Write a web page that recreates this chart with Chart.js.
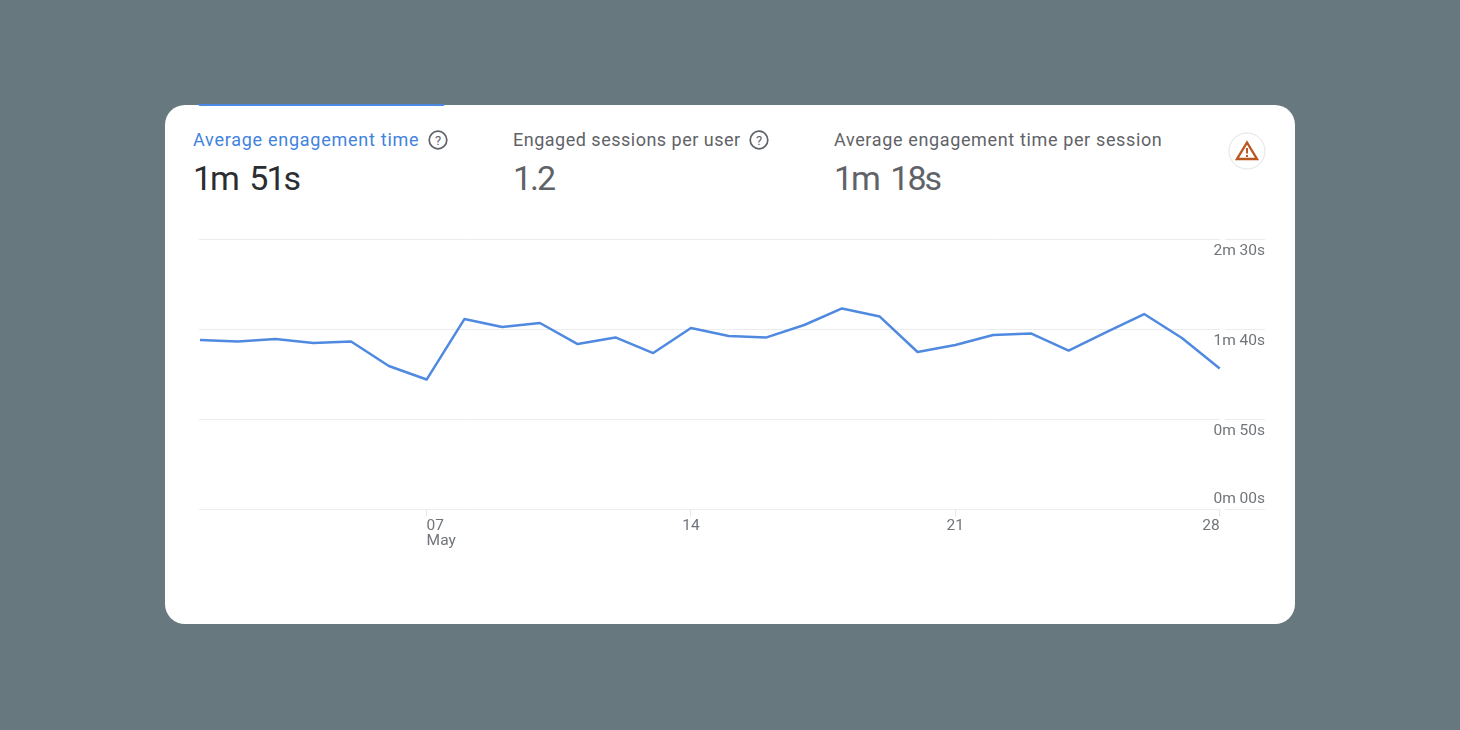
<!DOCTYPE html>
<html>
<head>
<meta charset="utf-8">
<title>Average engagement time</title>
<script src="https://cdn.jsdelivr.net/npm/chart.js@4"></script>
<style>
    html, body { margin: 0; height: 100%; background: #68787f; overflow: hidden; }
    #card { position: absolute; left: 165px; top: 105px; width: 1130px; height: 519px; background: #fff; border-radius: 20px; font-family: Roboto, sans-serif; }
    #tabBar { position: absolute; left: 33px; top: -1px; width: 247px; height: 2px; background: #4a88e2; border-radius: 0 0 3px 3px; }
    #chartBox { position: absolute; left: 0; top: 0; width: 1130px; height: 519px; }
    .metric { position: absolute; top: 24px; white-space: nowrap; }
    .metric .name { font-size: 18px; line-height: 22px; color: #5f6368; }
    .metric .value { font-size: 34px; line-height: 42px; margin-top: 6px; color: #5f6368; letter-spacing: -2px; word-spacing: 5px; }
    .metric.active .name { color: #3f83e0; }
    .metric.active .value { color: #2b2e31; }
    svg { position: absolute; }
</style>
</head>
<body>
<div id="card">
    <div id="tabBar"></div>
    <div class="metric active" style="left:28px"><div class="name" style="letter-spacing:0.74px">Average engagement time</div><div class="value">1m 51s</div></div>
    <div class="metric" style="left:348px"><div class="name" style="letter-spacing:0.5px">Engaged sessions per user</div><div class="value">1.2</div></div>
    <div class="metric" style="left:669px"><div class="name" style="letter-spacing:0.64px">Average engagement time per session</div><div class="value">1m 18s</div></div>
    <svg style="left:262px;top:24px" width="22" height="22" viewBox="0 0 22 22"><circle cx="11" cy="11" r="8.8" fill="none" stroke="#5f6368" stroke-width="1.7"/><text x="11" y="15.5" text-anchor="middle" font-family="Roboto" font-size="13" fill="#5f6368">?</text></svg>
    <svg style="left:583px;top:24px" width="22" height="22" viewBox="0 0 22 22"><circle cx="11" cy="11" r="8.8" fill="none" stroke="#5f6368" stroke-width="1.7"/><text x="11" y="15.5" text-anchor="middle" font-family="Roboto" font-size="13" fill="#5f6368">?</text></svg>
    <svg style="left:1063px;top:27px" width="38" height="38" viewBox="0 0 38 38"><circle cx="19" cy="19" r="18" fill="#fff" stroke="#e2e3e6" stroke-width="1"/><path d="M19 10.5 L29 27 L9 27 Z" fill="none" stroke="#b9591f" stroke-width="2.4" stroke-linejoin="miter"/><path d="M19 16 V21.5 M19 23 V25" stroke="#b9591f" stroke-width="2"/></svg>
    <div id="chartBox"><canvas id="lineChart" width="1130" height="519"></canvas></div>
</div>
<script>
    // day of month, one point per day
    var days = [1, 2, 3, 4, 5, 6, 7, 8, 9, 10, 11, 12, 13, 14, 15, 16, 17, 18, 19, 20, 21, 22, 23, 24, 25, 26, 27, 28];
    // average engagement time in seconds
    var engagementSeconds = [94.2, 93.3, 94.7, 92.5, 93.3, 79.7, 72.2, 105.8, 101.4, 103.6, 91.9, 95.6, 86.9, 100.8, 96.4, 95.6, 102.5, 111.7, 107.2, 87.5, 91.4, 96.9, 97.8, 88.3, 98.6, 108.6, 95.3, 78.3];
    var xTickValues = [7, 14, 21, 28];
    var xTickLabels = [["07", "May"], "14", "21", "28"];
    var yTickValues = [0, 50, 100, 150];
    var yTickLabels = ["0m 00s", "0m 50s", "1m 40s", "2m 30s"];

    // the GA chart nudges its labels: first x label left aligned, last right aligned,
    // y labels sit under their grid line except the bottom one
    var labelTweaks = {
        id: "labelTweaks",
        beforeDraw: function (chart) {
            var x = chart.scales.x, y = chart.scales.y;
            var xItems = x.getLabelItems(chart.chartArea);
            xItems.forEach(function (item, i) {
                if (i === 0) { item.options.textAlign = "left"; }
                if (i === xItems.length - 1) { item.options.textAlign = "right"; }
            });
            y.getLabelItems(chart.chartArea).forEach(function (item) {
                if (item.moved) { return; }
                item.options.translation[1] += item.label === "0m 00s" ? -10 : 12;
                item.moved = true;
            });
        },
        beforeDatasetsDraw: function (chart) {
            // small break in the grid lines just right of the last day
            var ctx = chart.ctx, px = chart.scales.x.getPixelForValue(28);
            ctx.save();
            ctx.fillStyle = "#fff";
            ctx.fillRect(px + 0.5, chart.chartArea.top - 1, 5, chart.chartArea.height + 2);
            ctx.restore();
        }
    };

    var ctx = document.getElementById("lineChart").getContext("2d");
    var lineChart = new Chart(ctx, {
        type: "line",
        plugins: [labelTweaks],
        data: {
            labels: days,
            datasets: [{
                data: engagementSeconds,
                borderColor: "#4f8ae0",
                borderWidth: 2.5,
                pointRadius: 0,
                tension: 0,
                fill: false,
                borderJoinStyle: "round"
            }]
        },
        options: {
            responsive: false,
            animation: false,
            layout: { padding: { left: 34, right: 30, top: 134.5, bottom: 0 } },
            plugins: { legend: { display: false }, tooltip: { enabled: false }, title: { display: false } },
            scales: {
                x: {
                    type: "linear",
                    min: 0.973,
                    max: 29.2,
                    afterBuildTicks: function (scale) {
                        scale.ticks = xTickValues.map(function (v) { return { value: v }; });
                    },
                    afterFit: function (scale) { scale.height = 114.5; },
                    border: { display: false },
                    grid: { drawOnChartArea: false, drawTicks: true, tickLength: 7, tickColor: "#e6e7e9" },
                    ticks: {
                        z: 1,
                        autoSkip: false,
                        maxRotation: 0,
                        padding: 2,
                        color: "#70757a",
                        font: { family: "Roboto", size: 15.5, lineHeight: 0.98 },
                        callback: function (value) {
                            return xTickLabels[xTickValues.indexOf(value)];
                        }
                    }
                },
                y: {
                    position: "right",
                    min: 0,
                    max: 150,
                    afterBuildTicks: function (scale) {
                        scale.ticks = yTickValues.map(function (v) { return { value: v }; });
                    },
                    border: { display: false },
                    grid: { color: "#ececee", drawTicks: false },
                    ticks: {
                        z: 1,
                        mirror: true,
                        padding: 0,
                        color: "#70757a",
                        font: { family: "Roboto", size: 15.5 },
                        callback: function (value) {
                            return yTickLabels[yTickValues.indexOf(value)];
                        }
                    }
                }
            }
        }
    });
</script>
</body>
</html>
